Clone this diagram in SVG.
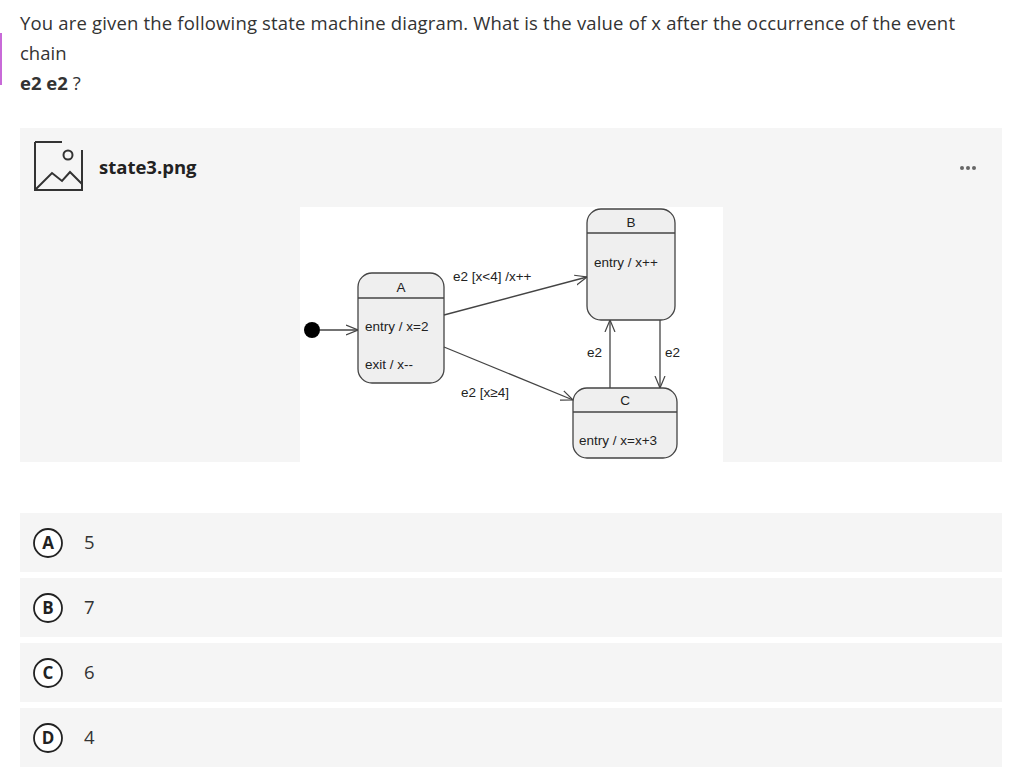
<svg xmlns="http://www.w3.org/2000/svg" width="1024" height="778" viewBox="0 0 1024 778">
<defs>
<style>
.q{font-family:"Open Sans","Noto Sans",sans-serif;font-size:18.5px;fill:#333}
.d{font-family:"Liberation Sans",Arial,sans-serif;font-size:13.5px;fill:#222}
.st{fill:#efefef;stroke:#444;stroke-width:1.3}
.ln{stroke:#444;stroke-width:1.3;fill:none}
.opt{fill:#f5f5f5}
.oc{fill:#fff;stroke:#222;stroke-width:1.8}
.ol{font-family:"Open Sans","Noto Sans",sans-serif;font-size:17px;font-weight:bold;fill:#222;text-anchor:middle}
</style>
<marker id="ar" viewBox="0 0 12 12" refX="12" refY="6" markerWidth="12" markerHeight="12" markerUnits="userSpaceOnUse" orient="auto"><path d="M0,1 L12,6 L0,11" fill="none" stroke="#444" stroke-width="1.2"/></marker>
</defs>
<rect width="1024" height="778" fill="#fff"/>
<rect x="0" y="33" width="2" height="52" fill="#c86ad8"/>
<text class="q" x="20" y="30" textLength="935">You are given the following state machine diagram. What is the value of x after the occurrence of the event</text>
<text class="q" x="20" y="60">chain</text>
<text class="q" x="20" y="90"><tspan font-weight="bold">e2 e2</tspan> ?</text>
<rect x="20" y="128" width="982" height="334" fill="#f5f5f5"/>
<g fill="none" stroke="#333" stroke-width="2"><path d="M35,142 H62 M82,150 V190 H35 V142"/><circle cx="68" cy="155" r="4.5"/><path d="M36,189 L52,173 L62,181 L70,172 L82,184"/></g>
<text x="99" y="174" font-family="'Open Sans','Noto Sans',sans-serif" font-size="18.5" font-weight="bold" fill="#222">state3.png</text>
<g fill="#666"><circle cx="962" cy="168" r="2"/><circle cx="968" cy="168" r="2"/><circle cx="974" cy="168" r="2"/></g>
<rect x="300" y="207" width="423" height="255" fill="#fff"/>
<g id="init"><circle cx="312" cy="330" r="8" fill="#000"/></g>
<g id="A"><rect class="st" x="358" y="273" width="86" height="110" rx="14"/><line class="ln" x1="358" y1="298" x2="444" y2="298"/>
<text class="d" x="401" y="292" text-anchor="middle">A</text><text class="d" x="365" y="331">entry / x=2</text><text class="d" x="365" y="369">exit / x--</text></g>
<g id="B"><rect class="st" x="587" y="209" width="88" height="111" rx="14"/><line class="ln" x1="587" y1="233" x2="675" y2="233"/>
<text class="d" x="631" y="227" text-anchor="middle">B</text><text class="d" x="594" y="267">entry / x++</text></g>
<g id="C"><rect class="st" x="573" y="388" width="104" height="70" rx="14"/><line class="ln" x1="573" y1="412" x2="677" y2="412"/>
<text class="d" x="625" y="405" text-anchor="middle">C</text><text class="d" x="579" y="445">entry / x=x+3</text></g>
<g id="edges">
<line class="ln" x1="320" y1="330" x2="358" y2="330" marker-end="url(#ar)"/>
<line class="ln" x1="444" y1="315" x2="587" y2="277" marker-end="url(#ar)"/>
<line class="ln" x1="444" y1="347" x2="573" y2="400" marker-end="url(#ar)"/>
<line class="ln" x1="610" y1="388" x2="610" y2="320" marker-end="url(#ar)"/>
<line class="ln" x1="660" y1="320" x2="660" y2="388" marker-end="url(#ar)"/>
<text class="d" x="453" y="281">e2 [x&lt;4] /x++</text>
<text class="d" x="461" y="397">e2 [x≥4]</text>
<text class="d" x="587" y="357">e2</text>
<text class="d" x="665" y="357">e2</text>
</g>
<rect class="opt" x="20" y="513" width="982" height="59"/>
<rect class="opt" x="20" y="578" width="982" height="59"/>
<rect class="opt" x="20" y="643" width="982" height="59"/>
<rect class="opt" x="20" y="708" width="982" height="59"/>
<circle class="oc" cx="48" cy="543" r="14"/><text class="ol" x="48" y="549">A</text><text class="q" x="84" y="549">5</text>
<circle class="oc" cx="48" cy="608" r="14"/><text class="ol" x="48" y="614">B</text><text class="q" x="84" y="614">7</text>
<circle class="oc" cx="48" cy="673" r="14"/><text class="ol" x="48" y="679">C</text><text class="q" x="84" y="679">6</text>
<circle class="oc" cx="48" cy="738" r="14"/><text class="ol" x="48" y="744">D</text><text class="q" x="84" y="744">4</text>
</svg>
